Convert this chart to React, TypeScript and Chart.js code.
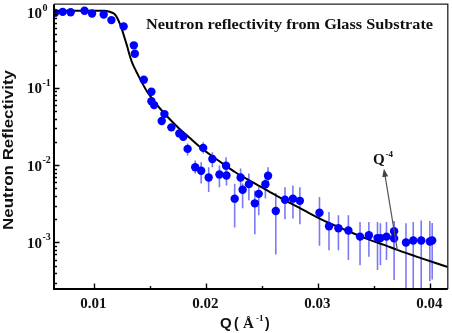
import React, { useEffect, useRef } from 'react';
import { Chart, registerables } from 'chart.js';

Chart.register(...registerables);

// Measured reflectivity data
const Q_DATA = [
  0.0065, 0.00718, 0.00789, 0.00913, 0.0098, 0.01084, 0.01153, 0.01262, 0.01353, 0.01362,
  0.01442, 0.0151, 0.0151, 0.01534, 0.01626, 0.01602, 0.01688, 0.01759, 0.01794, 0.01833,
  0.01901, 0.01954, 0.01972, 0.02021, 0.02054, 0.02117, 0.02176, 0.0218, 0.02253, 0.02306,
  0.02324, 0.0238, 0.02433, 0.02468, 0.02527, 0.02551, 0.0262, 0.02702, 0.02773, 0.02835,
  0.0301, 0.03095, 0.03179, 0.03268, 0.03372, 0.03451, 0.03528, 0.03554, 0.03608, 0.03676,
  0.03676, 0.03782, 0.03847, 0.03918, 0.03995, 0.04016,
];
const R_DATA = [
  0.937, 0.965, 0.956, 1.0, 0.92, 0.893, 0.755, 0.626, 0.356, 0.277,
  0.128, 0.0891, 0.0672, 0.06, 0.0459, 0.0373, 0.0309, 0.0258, 0.0234, 0.01626,
  0.00942, 0.00847, 0.01676, 0.00694, 0.01202, 0.00759, 0.00982, 0.00737, 0.00369, 0.00694,
  0.00482, 0.00569, 0.00321, 0.00426, 0.00567, 0.00732, 0.00255, 0.00358, 0.00369, 0.00346,
  0.00242, 0.00162, 0.00153, 0.00143, 0.00119, 0.00124, 0.00114, 0.00114, 0.00119, 0.0014,
  0.00113, 0.001, 0.00106, 0.00106, 0.00103, 0.00106,
];
const R_ERR_HI = [
  0.937, 0.965, 0.956, 1.0, 0.92, 0.893, 0.755, 0.626, 0.356, 0.277,
  0.128, 0.0891, 0.0672, 0.06, 0.0475, 0.039, 0.033, 0.0275, 0.0254, 0.01905,
  0.0115, 0.01093, 0.01977, 0.00942, 0.01471, 0.00991, 0.01268, 0.00991, 0.00575, 0.00906,
  0.00581, 0.00782, 0.00472, 0.0052, 0.00674, 0.00942, 0.00436, 0.0052, 0.00547, 0.0052,
  0.00387, 0.00248, 0.00225, 0.00225, 0.00184, 0.00184, 0.00184, 0.00177, 0.00184, 0.00188,
  0.00188, 0.00177, 0.00184, 0.00193, 0.00189, 0.00179,
];
const R_ERR_LO = [
  0.937, 0.965, 0.956, 1.0, 0.92, 0.893, 0.755, 0.626, 0.356, 0.277,
  0.128, 0.0891, 0.0672, 0.06, 0.0443, 0.0356, 0.029, 0.0242, 0.0212, 0.01333,
  0.00782, 0.00581, 0.01415, 0.00449, 0.00942, 0.0052, 0.00782, 0.00547, 0.00156, 0.0052,
  0.00277, 0.00351, 0.00128, 0.00225, 0.00372, 0.00547, 0.0007, 0.002, 0.00204, 0.00172,
  0.000904, 0.000796, 0.000796, 0.000592, 0.000509, 0.000652, 0.000439, 0.000509, 0.000592, 0.000796,
  0.000327, 0.000243, 0.000243, 0.000243, 0.000315, 0.000331,
];

// Fitted curve
const FIT_Q = [
  0.0064, 0.00871, 0.01093, 0.01129, 0.01155, 0.01182, 0.01204, 0.01226, 0.01249, 0.01271,
  0.01293, 0.01315, 0.01337, 0.01359, 0.01386, 0.01433, 0.01475, 0.01522, 0.01581, 0.0167,
  0.01759, 0.01848, 0.01966, 0.02114, 0.02262, 0.0244, 0.02558, 0.02735, 0.02824, 0.02913,
  0.0309, 0.03268, 0.03416, 0.03593, 0.03711, 0.03889, 0.04155,
];
const FIT_R = [
  0.995, 0.995, 0.995, 0.976, 0.948, 0.901, 0.812, 0.69, 0.561, 0.442,
  0.349, 0.267, 0.214, 0.1816, 0.152, 0.112, 0.0878, 0.0713, 0.0554, 0.04,
  0.0297, 0.0228, 0.0162, 0.01132, 0.00805, 0.00575, 0.00458, 0.0033, 0.00285, 0.00242,
  0.0018, 0.0014, 0.00114, 0.000923, 0.000796, 0.000647, 0.000481,
];

const X_MIN = 0.006405;
const X_MAX = 0.041553;
const Y_MIN = 2.5e-4;
const Y_MAX = 1.213;

const X_MAJOR = [0.01, 0.02, 0.03, 0.04];
const X_MAJOR_LABELS = ['0.01', '0.02', '0.03', '0.04'];
const X_MINOR = [0.015, 0.025, 0.035];
const Y_MAJOR = [1, 0.1, 0.01, 0.001];
const Y_MAJOR_EXP = ['0', '-1', '-2', '-3'];

const TITLE = 'Neutron reflectivity from Glass Substrate';
const Y_TITLE = 'Neutron Reflectivity';

// Arrow annotation (Q^-4) in data coordinates
const ARROW_FROM = { x: 0.03705, y: 0.000796 };
const ARROW_TO = { x: 0.03585, y: 0.00899 };

const SERIF = '"Liberation Serif", "Times New Roman", serif';
const SANS = '"Liberation Sans", Arial, sans-serif';

function drawStretched(ctx: CanvasRenderingContext2D, text: string, x: number, y: number, targetW: number) {
  const w = ctx.measureText(text).width;
  ctx.save();
  ctx.translate(x, y);
  ctx.scale(targetW / w, 1);
  ctx.textAlign = 'left';
  ctx.fillText(text, 0, 0);
  ctx.restore();
}

const errorBarPlugin = {
  id: 'errorBars',
  beforeDatasetsDraw(chart: any) {
    const { ctx, chartArea, scales } = chart;
    const xs = scales.x;
    const ys = scales.y;
    ctx.save();
    ctx.beginPath();
    ctx.rect(chartArea.left, chartArea.top, chartArea.right - chartArea.left, chartArea.bottom - chartArea.top);
    ctx.clip();
    ctx.strokeStyle = '#7a7af4';
    ctx.lineWidth = 1.6;
    for (let i = 0; i < Q_DATA.length; i++) {
      const px = xs.getPixelForValue(Q_DATA[i]);
      const y1 = ys.getPixelForValue(R_ERR_HI[i]);
      const y2 = ys.getPixelForValue(R_ERR_LO[i]);
      if (Math.abs(y2 - y1) < 0.5) continue;
      ctx.beginPath();
      ctx.moveTo(px, y1);
      ctx.lineTo(px, y2);
      ctx.stroke();
    }
    ctx.restore();
  },
};

const decorPlugin = {
  id: 'decor',
  afterDraw(chart: any) {
    const { ctx, chartArea, scales } = chart;
    const xs = scales.x;
    const ys = scales.y;
    const { left, right, top, bottom } = chartArea;
    ctx.save();

    // frame
    ctx.strokeStyle = '#222';
    ctx.lineWidth = 1.3;
    ctx.beginPath();
    ctx.moveTo(left, top);
    ctx.lineTo(right, top);
    ctx.lineTo(right, bottom);
    ctx.stroke();
    ctx.strokeStyle = '#000';
    ctx.lineWidth = 2;
    ctx.beginPath();
    ctx.moveTo(left, top);
    ctx.lineTo(left, bottom);
    ctx.lineTo(right, bottom);
    ctx.stroke();

    // ticks
    ctx.lineWidth = 1.4;
    ctx.beginPath();
    for (const v of X_MAJOR) {
      const px = Math.round(xs.getPixelForValue(v)) + 0.5;
      ctx.moveTo(px, bottom);
      ctx.lineTo(px, bottom - 5.5);
    }
    for (const v of X_MINOR) {
      const px = Math.round(xs.getPixelForValue(v)) + 0.5;
      ctx.moveTo(px, bottom);
      ctx.lineTo(px, bottom - 3);
    }
    for (const v of Y_MAJOR) {
      const py = Math.round(ys.getPixelForValue(v)) + 0.5;
      ctx.moveTo(left, py);
      ctx.lineTo(left + 5.5, py);
      for (let m = 2; m <= 9; m++) {
        const mv = v * m * 0.1;
        if (mv <= Y_MIN || mv >= Y_MAX) continue;
        const my = Math.round(ys.getPixelForValue(mv)) + 0.5;
        ctx.moveTo(left, my);
        ctx.lineTo(left + 3, my);
      }
    }
    for (let m = 3; m <= 9; m++) {
      const mv = 0.0001 * m;
      if (mv <= Y_MIN) continue;
      const my = Math.round(ys.getPixelForValue(mv)) + 0.5;
      ctx.moveTo(left, my);
      ctx.lineTo(left + 3, my);
    }
    ctx.stroke();

    ctx.fillStyle = '#111';
    // x tick labels
    ctx.font = `bold 15px ${SERIF}`;
    ctx.textAlign = 'center';
    ctx.textBaseline = 'alphabetic';
    X_MAJOR.forEach((v, i) => {
      ctx.fillText(X_MAJOR_LABELS[i], xs.getPixelForValue(v) - 1, 308);
    });
    // y tick labels
    Y_MAJOR.forEach((v, i) => {
      const py = ys.getPixelForValue(v) + (i === 0 ? 2 : 0);
      ctx.font = `bold 15px ${SERIF}`;
      ctx.textAlign = 'right';
      ctx.fillText('10', 42, py + 5.5);
      ctx.font = `bold 10px ${SERIF}`;
      ctx.textAlign = 'left';
      ctx.fillText(Y_MAJOR_EXP[i], 42.5, py - 2);
    });

    // title
    ctx.font = `bold 14px ${SERIF}`;
    drawStretched(ctx, TITLE, 146, 28.5, 287);

    // y axis title
    ctx.save();
    ctx.translate(12.5, 150);
    ctx.rotate(-Math.PI / 2);
    ctx.font = `bold 14px ${SANS}`;
    drawStretched(ctx, Y_TITLE, -80, 0, 160);
    ctx.restore();

    // x axis title: Q ( Å^-1 )
    ctx.textAlign = 'left';
    ctx.font = `bold 15px ${SANS}`;
    ctx.fillText('Q', 220, 327.5);
    ctx.font = `bold 14px ${SANS}`;
    ctx.fillText('(', 234, 327.5);
    ctx.font = `bold 15px ${SERIF}`;
    ctx.fillText('Å', 243, 327.5);
    ctx.font = `bold 9px ${SERIF}`;
    ctx.fillText('-1', 256, 321);
    ctx.font = `bold 14px ${SANS}`;
    ctx.fillText(')', 265, 327.5);

    // arrow
    const ax1 = xs.getPixelForValue(ARROW_FROM.x);
    const ay1 = ys.getPixelForValue(ARROW_FROM.y);
    const ax2 = xs.getPixelForValue(ARROW_TO.x);
    const ay2 = ys.getPixelForValue(ARROW_TO.y);
    const ang = Math.atan2(ay2 - ay1, ax2 - ax1);
    ctx.strokeStyle = '#555';
    ctx.fillStyle = '#444';
    ctx.lineWidth = 1.2;
    ctx.beginPath();
    ctx.moveTo(ax1, ay1);
    ctx.lineTo(ax2 - Math.cos(ang) * 5, ay2 - Math.sin(ang) * 5);
    ctx.stroke();
    ctx.beginPath();
    ctx.moveTo(ax2, ay2);
    ctx.lineTo(ax2 - Math.cos(ang) * 8 - Math.sin(ang) * 3, ay2 - Math.sin(ang) * 8 + Math.cos(ang) * 3);
    ctx.lineTo(ax2 - Math.cos(ang) * 8 + Math.sin(ang) * 3, ay2 - Math.sin(ang) * 8 - Math.cos(ang) * 3);
    ctx.closePath();
    ctx.fill();

    // Q^-4 label
    ctx.fillStyle = '#111';
    ctx.font = `bold 15px ${SERIF}`;
    ctx.fillText('Q', ax2 - 11, ay2 - 5);
    ctx.font = `bold 9px ${SERIF}`;
    ctx.fillText('-4', ax2 + 1.5, ay2 - 12);

    ctx.restore();
  },
};

export default function App() {
  const ref = useRef<HTMLCanvasElement>(null);
  useEffect(() => {
    const canvas = ref.current;
    if (!canvas) return;
    const chart = new Chart(canvas, {
      type: 'scatter',
      data: {
        datasets: [
          {
            label: 'data',
            data: Q_DATA.map((q, i) => ({ x: q, y: R_DATA[i] })),
            pointRadius: 4.2,
            pointHoverRadius: 4.2,
            backgroundColor: '#0000ff',
            borderColor: '#0000ff',
            borderWidth: 0,
            showLine: false,
            order: 0,
          } as any,
          {
            label: 'fit',
            type: 'line',
            data: FIT_Q.map((q, i) => ({ x: q, y: FIT_R[i] })),
            borderColor: '#000',
            borderWidth: 2,
            pointRadius: 0,
            showLine: true,
            fill: false,
            cubicInterpolationMode: 'monotone',
            order: 1,
          } as any,
        ],
      },
      options: {
        responsive: false,
        animation: false,
        devicePixelRatio: 1,
        layout: { padding: { left: 54, right: 2, top: 3, bottom: 44 } },
        plugins: { legend: { display: false }, tooltip: { enabled: false } },
        scales: {
          x: { type: 'linear', min: X_MIN, max: X_MAX, display: false },
          y: { type: 'logarithmic', min: Y_MIN, max: Y_MAX, display: false },
        },
      },
      plugins: [errorBarPlugin, decorPlugin],
    });
    return () => chart.destroy();
  }, []);
  return (
    <div style={{ position: 'fixed', left: 0, top: 0, width: 452, height: 333, background: '#fff' }}>
      <canvas ref={ref} width={452} height={333} style={{ display: 'block' }} />
    </div>
  );
}
